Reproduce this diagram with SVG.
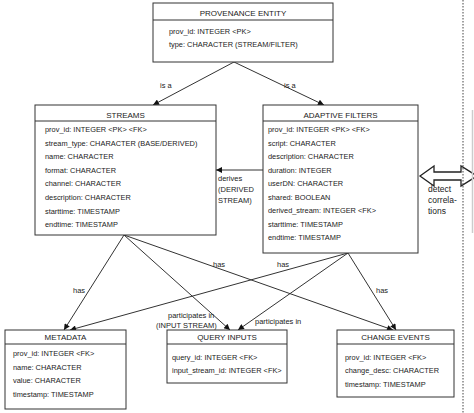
<svg xmlns="http://www.w3.org/2000/svg" width="474" height="413" viewBox="0 0 474 413">
<defs>
<style>
.box{fill:#fff;stroke:#333;stroke-width:1}
.sep{stroke:#333;stroke-width:1}
.t{font-family:"Liberation Sans",Arial,sans-serif;font-size:8px;fill:#222;text-anchor:middle}
.f{font-family:"Liberation Sans",Arial,sans-serif;font-size:7.4px;fill:#222}
.l{font-family:"Liberation Sans",Arial,sans-serif;font-size:7.5px;fill:#222}
.c{stroke:#333;stroke-width:1;fill:none;marker-end:url(#ah)}
</style>
<marker id="ah" viewBox="0 0 10 10" refX="10" refY="5" markerWidth="7" markerHeight="6" markerUnits="userSpaceOnUse" orient="auto">
<path d="M0,0 L10,5 L0,10 z" fill="#111"/>
</marker>
</defs>
<rect width="474" height="413" fill="#fff"/>
<g id="connectors">
<line class="c" x1="234" y1="62" x2="153" y2="105"/>
<line class="c" x1="234" y1="62" x2="324" y2="105"/>
<line class="c" x1="263" y1="170" x2="216" y2="170"/>
<line class="c" x1="124" y1="235" x2="64" y2="330"/>
<line class="c" x1="124" y1="235" x2="230" y2="330"/>
<line class="c" x1="124" y1="235" x2="393" y2="330"/>
<line class="c" x1="348" y1="253" x2="70" y2="330"/>
<line class="c" x1="348" y1="253" x2="238" y2="330"/>
<line class="c" x1="348" y1="253" x2="396" y2="330"/>
<text class="l" x="160" y="88">is a</text>
<text class="l" x="284" y="88">is a</text>
<text class="l" x="218" y="181">derives</text>
<text class="l" x="218" y="192">(DERIVED</text>
<text class="l" x="218" y="203">STREAM)</text>
<text class="l" x="73" y="293">has</text>
<text class="l" x="213" y="267">has</text>
<text class="l" x="277" y="267">has</text>
<text class="l" x="376" y="293">has</text>
<text class="l" x="168" y="318">participates in</text>
<text class="l" x="156" y="328">(INPUT STREAM)</text>
<text class="l" x="255" y="324">participates in</text>
</g>
<g id="correlation">
<path d="M420,176 L434,166 L434,172 L461,172 L461,166 L477,176 L461,186 L461,180 L434,180 L434,186 Z" fill="#fff" stroke="#222" stroke-width="1.3"/>
<line x1="463" y1="0" x2="463" y2="413" stroke="#444" stroke-width="1" stroke-dasharray="1.5,1.5"/>
<line x1="472.5" y1="110" x2="472.5" y2="233" stroke="#ccc" stroke-width="1.5"/>
<text x="428" y="192" font-family="Liberation Sans,Arial,sans-serif" font-size="8.5" fill="#222">detect</text>
<text x="428" y="203" font-family="Liberation Sans,Arial,sans-serif" font-size="8.5" fill="#222">correla-</text>
<text x="428" y="214" font-family="Liberation Sans,Arial,sans-serif" font-size="8.5" fill="#222">tions</text>
</g>
<g id="provenance-entity">
<rect class="box" x="153" y="3" width="180" height="59"/>
<line class="sep" x1="153" y1="20" x2="333" y2="20"/>
<text class="t" x="243" y="16">PROVENANCE ENTITY</text>
<text class="f" x="169" y="34">prov_id: INTEGER &lt;PK&gt;</text>
<text class="f" x="169" y="47">type: CHARACTER (STREAM/FILTER)</text>
</g>
<g id="streams">
<rect class="box" x="35" y="105" width="181" height="130"/>
<line class="sep" x1="35" y1="121" x2="216" y2="121"/>
<text class="t" x="125.5" y="118">STREAMS</text>
<text class="f" x="45" y="132">prov_id: INTEGER &lt;PK&gt; &lt;FK&gt;</text>
<text class="f" x="45" y="145.6">stream_type: CHARACTER (BASE/DERIVED)</text>
<text class="f" x="45" y="159.2">name: CHARACTER</text>
<text class="f" x="45" y="172.8">format: CHARACTER</text>
<text class="f" x="45" y="186.4">channel: CHARACTER</text>
<text class="f" x="45" y="200">description: CHARACTER</text>
<text class="f" x="45" y="213.6">starttime: TIMESTAMP</text>
<text class="f" x="45" y="227.2">endtime: TIMESTAMP</text>
</g>
<g id="adaptive-filters">
<rect class="box" x="263" y="105" width="155" height="148"/>
<line class="sep" x1="263" y1="121" x2="418" y2="121"/>
<text class="t" x="340.5" y="118">ADAPTIVE FILTERS</text>
<text class="f" x="268" y="132">prov_id: INTEGER &lt;PK&gt; &lt;FK&gt;</text>
<text class="f" x="268" y="145.5">script: CHARACTER</text>
<text class="f" x="268" y="159">description: CHARACTER</text>
<text class="f" x="268" y="172.5">duration: INTEGER</text>
<text class="f" x="268" y="186">userDN: CHARACTER</text>
<text class="f" x="268" y="199.5">shared: BOOLEAN</text>
<text class="f" x="268" y="213">derived_stream: INTEGER &lt;FK&gt;</text>
<text class="f" x="268" y="226.5">starttime: TIMESTAMP</text>
<text class="f" x="268" y="240">endtime: TIMESTAMP</text>
</g>
<g id="metadata">
<rect class="box" x="5" y="330" width="121" height="79"/>
<line class="sep" x1="5" y1="344" x2="126" y2="344"/>
<text class="t" x="65.5" y="340">METADATA</text>
<text class="f" x="13" y="356">prov_id: INTEGER &lt;FK&gt;</text>
<text class="f" x="13" y="369.5">name: CHARACTER</text>
<text class="f" x="13" y="383">value: CHARACTER</text>
<text class="f" x="13" y="396.5">timestamp: TIMESTAMP</text>
</g>
<g id="query-inputs">
<rect class="box" x="167" y="330" width="120" height="53"/>
<line class="sep" x1="167" y1="344" x2="287" y2="344"/>
<text class="t" x="227" y="340">QUERY INPUTS</text>
<text class="f" x="172" y="360">query_id: INTEGER &lt;FK&gt;</text>
<text class="f" x="172" y="373">input_stream_id: INTEGER &lt;FK&gt;</text>
</g>
<g id="change-events">
<rect class="box" x="337" y="330" width="117" height="67"/>
<line class="sep" x1="337" y1="344" x2="454" y2="344"/>
<text class="t" x="395.5" y="340">CHANGE EVENTS</text>
<text class="f" x="345" y="360">prov_id: INTEGER &lt;FK&gt;</text>
<text class="f" x="345" y="373">change_desc: CHARACTER</text>
<text class="f" x="345" y="386.5">timestamp: TIMESTAMP</text>
</g>
</svg>
